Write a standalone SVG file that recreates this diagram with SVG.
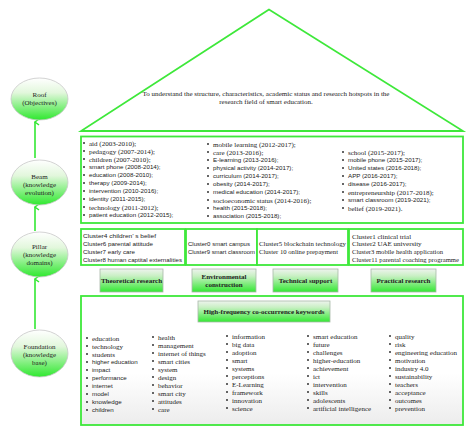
<svg xmlns="http://www.w3.org/2000/svg" width="474" height="436" viewBox="0 0 474 436">
<defs>
<linearGradient id="eg" x1="0" y1="0" x2="0" y2="1">
<stop offset="0" stop-color="#ffffff"/>
<stop offset="0.35" stop-color="#e2f7dc"/>
<stop offset="1" stop-color="#2fe82f"/>
</linearGradient>
<linearGradient id="bg" x1="0" y1="0" x2="0" y2="1">
<stop offset="0" stop-color="#eef3ee"/>
<stop offset="0.3" stop-color="#c9f0c4"/>
<stop offset="1" stop-color="#33e833"/>
</linearGradient>
<linearGradient id="fg" x1="0" y1="0" x2="0" y2="1">
<stop offset="0" stop-color="#ffffff"/>
<stop offset="0.6" stop-color="#ffffff"/>
<stop offset="1" stop-color="#ececec"/>
</linearGradient>
<marker id="ah" markerWidth="8" markerHeight="8" refX="4" refY="1" orient="auto-start-reverse" markerUnits="userSpaceOnUse" viewBox="0 0 8 8">
<path d="M1,5 L4,1 L7,5" fill="none" stroke="#33e833" stroke-width="1.5"/>
</marker>
</defs>
<style>
.grn{fill:none;stroke:#3ee83a;stroke-width:1.8}
.box{fill:#ffffff;stroke:#3ee83a;stroke-width:1.8}
.ell{fill:url(#eg);stroke:#c8c8c8;stroke-width:0.8}
.btn{fill:url(#bg);stroke:#a8b8a8;stroke-width:0.8}
.se{font-family:"Liberation Serif",serif;font-size:7px;fill:#222}
.sa{font-family:"Liberation Sans",sans-serif;font-size:6.2px;fill:#222}
.c{text-anchor:middle}
.b{font-weight:bold}
.conn{stroke:#33e833;stroke-width:1.6;fill:none}
.dot{fill:#333}
</style>
<rect width="474" height="436" fill="#ffffff"/>

<g id="connectors">
<line class="conn" x1="35" y1="158" x2="35" y2="122" marker-end="url(#ah)"/>
<line class="conn" x1="35" y1="231" x2="35" y2="207" marker-end="url(#ah)"/>
<line class="conn" x1="35" y1="329" x2="35" y2="279" marker-end="url(#ah)"/>
</g>

<g id="roof-ellipse">
<ellipse class="ell" cx="39.5" cy="99" rx="28.5" ry="21"/>
<text class="se c" x="39.5" y="97">Roof</text>
<text class="se c" x="39.5" y="105">(Objectives)</text>
</g>
<g id="beam-ellipse">
<ellipse class="ell" cx="39.5" cy="182.5" rx="28.5" ry="22.5"/>
<text class="se c" x="39.5" y="179">Beam</text>
<text class="se c" x="39.5" y="187">(knowledge</text>
<text class="se c" x="39.5" y="195">evolution)</text>
</g>
<g id="pillar-ellipse">
<ellipse class="ell" cx="39.5" cy="254.5" rx="28.5" ry="22.5"/>
<text class="se c" x="39.5" y="249">Pillar</text>
<text class="se c" x="39.5" y="257">(knowledge</text>
<text class="se c" x="39.5" y="265">domains)</text>
</g>
<g id="foundation-ellipse">
<ellipse class="ell" cx="39.5" cy="353.5" rx="28.5" ry="23.5"/>
<text class="se c" x="39.5" y="349">Foundation</text>
<text class="se c" x="39.5" y="357">(knowledge</text>
<text class="se c" x="39.5" y="365">base)</text>
</g>

<g id="roof">
<polygon class="grn" points="269,9.5 81,131 463,131"/>
<text class="se c" x="266" y="96">To understand the structure, characteristics, academic status and research hotspots in the</text>
<text class="se c" x="266" y="104">research field of smart education.</text>
</g>

<g id="beam">
<rect class="box" x="81" y="136.5" width="382" height="86.5"/>
<g>
<circle class="dot" cx="84" cy="143" r="1"/><text class="se" x="89" y="145.5">aid (2003-2010);</text>
<circle class="dot" cx="84" cy="151" r="1"/><text class="se" x="89" y="153.5">pedagogy (2007-2014);</text>
<circle class="dot" cx="84" cy="159" r="1"/><text class="se" x="89" y="161.5">children (2007-2010);</text>
<circle class="dot" cx="84" cy="167" r="1"/><text class="sa" x="89" y="169.3">smart phone (2008-2014);</text>
<circle class="dot" cx="84" cy="175" r="1"/><text class="sa" x="89" y="177.3">education (2008-2010);</text>
<circle class="dot" cx="84" cy="183" r="1"/><text class="sa" x="89" y="185.3">therapy (2009-2014);</text>
<circle class="dot" cx="84" cy="191" r="1"/><text class="sa" x="89" y="193.3">intervention (2010-2016);</text>
<circle class="dot" cx="84" cy="199" r="1"/><text class="sa" x="89" y="201.3">identity (2011-2015);</text>
<circle class="dot" cx="84" cy="207" r="1"/><text class="se" x="89" y="209.5">technology (2011-2012);</text>
<circle class="dot" cx="84" cy="215" r="1"/><text class="sa" x="89" y="217.3">patient education (2012-2015);</text>
</g>
<g>
<circle class="dot" cx="208" cy="144" r="1"/><text class="se" x="213" y="146.5">mobile learning (2012-2017);</text>
<circle class="dot" cx="208" cy="152" r="1"/><text class="se" x="213" y="154.5">care (2013-2016);</text>
<circle class="dot" cx="208" cy="160" r="1"/><text class="sa" x="213" y="162.3">E-learning (2013-2016);</text>
<circle class="dot" cx="208" cy="168" r="1"/><text class="sa" x="213" y="170.3">physical activity (2014-2017);</text>
<circle class="dot" cx="208" cy="176" r="1"/><text class="sa" x="213" y="178.3">curriculum (2014-2017);</text>
<circle class="dot" cx="208" cy="184" r="1"/><text class="sa" x="213" y="186.3">obesity (2014-2017);</text>
<circle class="dot" cx="208" cy="192" r="1"/><text class="sa" x="213" y="194.3">medical education (2014-2017);</text>
<circle class="dot" cx="208" cy="200" r="1"/><text class="se" x="213" y="202.5">socioeconomic status (2014-2016);</text>
<circle class="dot" cx="208" cy="208" r="1"/><text class="sa" x="213" y="210.3">health (2015-2018);</text>
<circle class="dot" cx="208" cy="216" r="1"/><text class="sa" x="213" y="218.3">association (2015-2018);</text>
</g>
<g>
<circle class="dot" cx="343" cy="152" r="1"/><text class="se" x="348" y="154.5">school (2015-2017);</text>
<circle class="dot" cx="343" cy="160" r="1"/><text class="sa" x="348" y="162.3">mobile phone (2015-2017);</text>
<circle class="dot" cx="343" cy="168" r="1"/><text class="sa" x="348" y="170.3">United states (2016-2018);</text>
<circle class="dot" cx="343" cy="176" r="1"/><text class="sa" x="348" y="178.3">APP (2016-2017);</text>
<circle class="dot" cx="343" cy="184" r="1"/><text class="sa" x="348" y="186.3">disease (2016-2017);</text>
<circle class="dot" cx="343" cy="192" r="1"/><text class="se" x="348" y="194.5">entrepreneurship (2017-2018);</text>
<circle class="dot" cx="343" cy="200" r="1"/><text class="sa" x="348" y="202.3">smart classroom (2019-2021);</text>
<circle class="dot" cx="343" cy="208" r="1"/><text class="se" x="348" y="210.5">belief (2019-2021).</text>
</g>
</g>

<g id="pillar-cluster-1">
<rect class="box" x="81" y="229" width="104" height="36"/>
<text class="sa" x="83" y="237.5" textLength="73" lengthAdjust="spacingAndGlyphs">Cluster4 children’ s belief</text>
<text class="sa" x="83" y="245.5" textLength="70" lengthAdjust="spacingAndGlyphs">Cluster6 parental attitude</text>
<text class="sa" x="83" y="253.5" textLength="52" lengthAdjust="spacingAndGlyphs">Cluster7 early care</text>
<text class="sa" x="83" y="261.5" textLength="99" lengthAdjust="spacingAndGlyphs">Cluster8 human captital externalities</text>
</g>
<g id="pillar-cluster-2">
<rect class="box" x="186" y="229" width="71" height="36"/>
<text class="sa" x="188" y="245.5" textLength="62" lengthAdjust="spacingAndGlyphs">Cluster0 smart campus</text>
<text class="sa" x="188" y="253.5" textLength="67" lengthAdjust="spacingAndGlyphs">Cluster9 smart classroom</text>
</g>
<g id="pillar-cluster-3">
<rect class="box" x="257" y="229" width="91" height="36"/>
<text class="se" x="259" y="245.5" textLength="87" lengthAdjust="spacingAndGlyphs">Cluster5 blockchain technology</text>
<text class="se" x="259" y="253.5" textLength="79" lengthAdjust="spacingAndGlyphs">Cluster 10 online prepayment</text>
</g>
<g id="pillar-cluster-4">
<rect class="box" x="349" y="229" width="114" height="36"/>
<text class="se" x="352" y="238.5">Cluster1 clinical trial</text>
<text class="se" x="352" y="246">Cluster2 UAE university</text>
<text class="se" x="352" y="253.5" textLength="91" lengthAdjust="spacingAndGlyphs">Cluster3 mobile health application</text>
<text class="se" x="352" y="261.5" textLength="107" lengthAdjust="spacingAndGlyphs">Cluster11 parental coaching programme</text>
</g>

<g id="theoretical-research">
<rect class="btn" x="100" y="269" width="63" height="23"/>
<text class="se c b" x="131.5" y="283">Theoretical research</text>
</g>
<g id="environmental-construction">
<rect class="btn" x="192" y="269" width="64" height="23"/>
<text class="se c b" x="224" y="278.5">Environmental</text>
<text class="se c b" x="224" y="286.5">construction</text>
</g>
<g id="technical-support">
<rect class="btn" x="273" y="269" width="65" height="23"/>
<text class="se c b" x="305.5" y="283">Technical support</text>
</g>
<g id="practical-research">
<rect class="btn" x="371" y="269" width="65" height="23"/>
<text class="se c b" x="403.5" y="283">Practical research</text>
</g>

<g id="foundation">
<rect x="81" y="296" width="382" height="129" fill="url(#fg)" stroke="#3ee83a" stroke-width="1.8"/>
<rect class="btn" x="198" y="301" width="132" height="21"/>
<text class="se c b" x="264" y="314">High-frequency co-occurrence keywords</text>
<g>
<circle class="dot" cx="87" cy="338" r="1"/><text class="se" x="92" y="340.5">education</text>
<circle class="dot" cx="87" cy="346" r="1"/><text class="se" x="92" y="348.5">technology</text>
<circle class="dot" cx="87" cy="354" r="1"/><text class="se" x="92" y="356.5">students</text>
<circle class="dot" cx="87" cy="362" r="1"/><text class="sa" x="92" y="364.3">higher education</text>
<circle class="dot" cx="87" cy="370" r="1"/><text class="sa" x="92" y="372.3">impact</text>
<circle class="dot" cx="87" cy="378" r="1"/><text class="sa" x="92" y="380.3">performance</text>
<circle class="dot" cx="87" cy="386" r="1"/><text class="sa" x="92" y="388.3">internet</text>
<circle class="dot" cx="87" cy="394" r="1"/><text class="sa" x="92" y="396.3">model</text>
<circle class="dot" cx="87" cy="402" r="1"/><text class="sa" x="92" y="404.3">knowledge</text>
<circle class="dot" cx="87" cy="410" r="1"/><text class="sa" x="92" y="412.3">children</text>
</g>
<g>
<circle class="dot" cx="153" cy="337" r="1"/><text class="se" x="158" y="339.5">health</text>
<circle class="dot" cx="153" cy="345" r="1"/><text class="se" x="158" y="347.5">management</text>
<circle class="dot" cx="153" cy="353" r="1"/><text class="se" x="158" y="355.5">internet of things</text>
<circle class="dot" cx="153" cy="361" r="1"/><text class="se" x="158" y="363.5">smart cities</text>
<circle class="dot" cx="153" cy="369" r="1"/><text class="se" x="158" y="371.5">system</text>
<circle class="dot" cx="153" cy="377" r="1"/><text class="se" x="158" y="379.5">design</text>
<circle class="dot" cx="153" cy="385" r="1"/><text class="se" x="158" y="387.5">behavior</text>
<circle class="dot" cx="153" cy="393" r="1"/><text class="se" x="158" y="395.5">smart city</text>
<circle class="dot" cx="153" cy="401" r="1"/><text class="se" x="158" y="403.5">attitudes</text>
<circle class="dot" cx="153" cy="409" r="1"/><text class="se" x="158" y="411.5">care</text>
</g>
<g>
<circle class="dot" cx="227" cy="336" r="1"/><text class="se" x="232" y="338.5">information</text>
<circle class="dot" cx="227" cy="344" r="1"/><text class="se" x="232" y="346.5">big data</text>
<circle class="dot" cx="227" cy="352" r="1"/><text class="se" x="232" y="354.5">adoption</text>
<circle class="dot" cx="227" cy="360" r="1"/><text class="se" x="232" y="362.5">smart</text>
<circle class="dot" cx="227" cy="368" r="1"/><text class="se" x="232" y="370.5">systems</text>
<circle class="dot" cx="227" cy="376" r="1"/><text class="se" x="232" y="378.5">perceptions</text>
<circle class="dot" cx="227" cy="384" r="1"/><text class="se" x="232" y="386.5">E-Learning</text>
<circle class="dot" cx="227" cy="392" r="1"/><text class="se" x="232" y="394.5">framework</text>
<circle class="dot" cx="227" cy="400" r="1"/><text class="se" x="232" y="402.5">innovation</text>
<circle class="dot" cx="227" cy="408" r="1"/><text class="se" x="232" y="410.5">science</text>
</g>
<g>
<circle class="dot" cx="308" cy="336" r="1"/><text class="se" x="313" y="338.5">smart education</text>
<circle class="dot" cx="308" cy="344" r="1"/><text class="se" x="313" y="346.5">future</text>
<circle class="dot" cx="308" cy="352" r="1"/><text class="se" x="313" y="354.5">challenges</text>
<circle class="dot" cx="308" cy="360" r="1"/><text class="se" x="313" y="362.5">higher-education</text>
<circle class="dot" cx="308" cy="368" r="1"/><text class="se" x="313" y="370.5">achievement</text>
<circle class="dot" cx="308" cy="376" r="1"/><text class="se" x="313" y="378.5">ict</text>
<circle class="dot" cx="308" cy="384" r="1"/><text class="se" x="313" y="386.5">intervention</text>
<circle class="dot" cx="308" cy="392" r="1"/><text class="se" x="313" y="394.5">skills</text>
<circle class="dot" cx="308" cy="400" r="1"/><text class="se" x="313" y="402.5">adolescents</text>
<circle class="dot" cx="308" cy="408" r="1"/><text class="se" x="313" y="410.5">artificial intelligence</text>
</g>
<g>
<circle class="dot" cx="390" cy="336" r="1"/><text class="se" x="395" y="338.5">quality</text>
<circle class="dot" cx="390" cy="344" r="1"/><text class="se" x="395" y="346.5">risk</text>
<circle class="dot" cx="390" cy="352" r="1"/><text class="se" x="395" y="354.5">engineering education</text>
<circle class="dot" cx="390" cy="360" r="1"/><text class="se" x="395" y="362.5">motivation</text>
<circle class="dot" cx="390" cy="368" r="1"/><text class="se" x="395" y="370.5">industry 4.0</text>
<circle class="dot" cx="390" cy="376" r="1"/><text class="se" x="395" y="378.5">sustainability</text>
<circle class="dot" cx="390" cy="384" r="1"/><text class="se" x="395" y="386.5">teachers</text>
<circle class="dot" cx="390" cy="392" r="1"/><text class="se" x="395" y="394.5">acceptance</text>
<circle class="dot" cx="390" cy="400" r="1"/><text class="se" x="395" y="402.5">outcomes</text>
<circle class="dot" cx="390" cy="408" r="1"/><text class="se" x="395" y="410.5">prevention</text>
</g>
</g>
</svg>
